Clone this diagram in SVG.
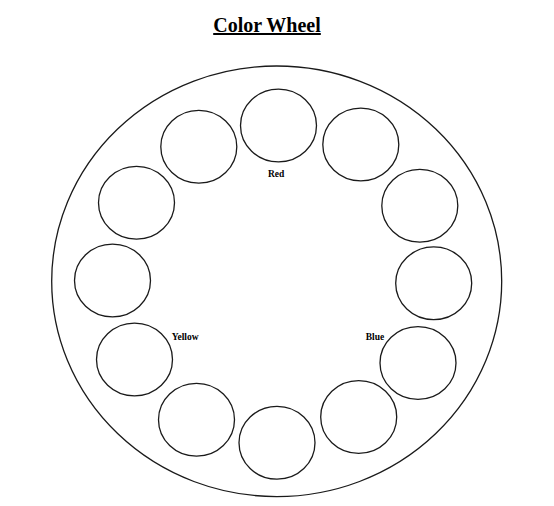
<svg xmlns="http://www.w3.org/2000/svg" width="554" height="506" viewBox="0 0 554 506">
<style>
.c{fill:none;stroke:#1a1a1a;stroke-width:1.3}
.t{font-family:"Liberation Serif","Times New Roman",serif;font-weight:bold;fill:#000}
.lbl{font-size:9.5px}
</style>
<rect width="554" height="506" fill="#fff"/>
<text class="t" x="267" y="32" font-size="20" text-anchor="middle" text-decoration="underline">Color Wheel</text>
<g id="wheel"><ellipse class="c" cx="276.7" cy="281.3" rx="225" ry="215.3"/></g>
<g id="n1"><ellipse class="c" cx="278.5" cy="125.5" rx="38" ry="36.4"/></g>
<g id="n2"><ellipse class="c" cx="360.8" cy="144.5" rx="38" ry="36.4"/></g>
<g id="n3"><ellipse class="c" cx="419.8" cy="205.8" rx="38" ry="36.4"/></g>
<g id="n4"><ellipse class="c" cx="433.7" cy="283.3" rx="38" ry="36.4"/></g>
<g id="n5"><ellipse class="c" cx="418" cy="363" rx="38" ry="36.4"/></g>
<g id="n6"><ellipse class="c" cx="358.7" cy="417" rx="38" ry="36.4"/></g>
<g id="n7"><ellipse class="c" cx="277" cy="442.8" rx="38" ry="36.4"/></g>
<g id="n8"><ellipse class="c" cx="196.5" cy="419.7" rx="38" ry="36.4"/></g>
<g id="n9"><ellipse class="c" cx="134.5" cy="359.5" rx="38" ry="36.4"/></g>
<g id="n10"><ellipse class="c" cx="112.5" cy="280.5" rx="38" ry="36.4"/></g>
<g id="n11"><ellipse class="c" cx="136.5" cy="202.8" rx="38" ry="36.4"/></g>
<g id="n12"><ellipse class="c" cx="198.8" cy="146.7" rx="38" ry="36.4"/></g>
<g id="connectors"></g>
<g id="labels">
<text class="t lbl" x="276.2" y="177" text-anchor="middle">Red</text>
<text class="t lbl" x="171.7" y="340">Yellow</text>
<text class="t lbl" x="365.7" y="340">Blue</text>
</g>
</svg>
